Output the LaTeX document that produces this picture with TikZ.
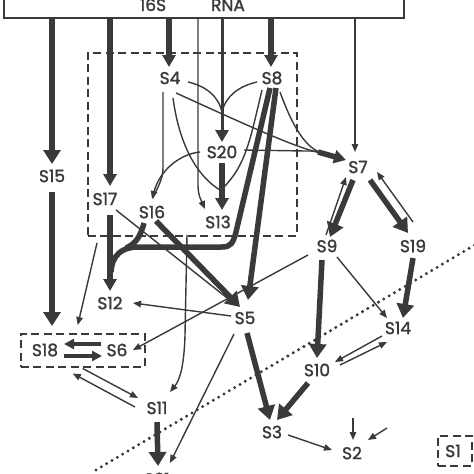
\documentclass[tikz,border=0pt]{standalone}
\usepackage{fontspec}
\setmainfont{Poppins}
\newfontfamily\lblfam{Poppins}[FakeBold=1.6]
\usetikzlibrary{arrows.meta,calc}
\definecolor{ink}{HTML}{3A3A3A}
\newcommand\lblfont{\lblfam\fontsize{17}{19}\selectfont}
\tikzset{
  lab/.style={inner sep=0pt, text=ink, font=\lblfont},
  lnthin/.style={draw=ink, line width=1.4pt},
  lnmed/.style={draw=ink, line width=3pt},
  lnthick/.style={draw=ink, line width=5.5pt},
  ta/.style={-{Triangle[length=8pt,width=6.5pt]}},
  Ta/.style={-{Triangle[length=12pt,width=13pt]}},
  TA/.style={-{Triangle[length=14pt,width=17pt]}},
  Da/.style={-{Triangle[length=10pt,width=10pt]}},
  dbox/.style={draw=ink, line width=1.5pt, dash pattern=on 8pt off 4.5pt, inner sep=0pt},
  dots/.style={draw=ink, line width=3.3pt, line cap=round, dash pattern=on 0pt off 6.2pt},
}
\begin{document}
\begin{tikzpicture}[x=1pt,y=-1pt]
\useasboundingbox[fill=white] (0,0) rectangle (474,474);

% boxes
\node[draw=ink, line width=1.6pt, minimum width=400pt, minimum height=60pt, inner sep=0pt, anchor=south west] (rna) at (3,19) {};
\node[lab, anchor=base] (t16) at (153,11) {16S};
\node[lab, anchor=base] (trna) at (228,11) {RNA};
\node[dbox, minimum width=209pt, minimum height=183pt, anchor=north west] (grp) at (87,52) {};
\node[dbox, minimum width=124pt, minimum height=33pt, anchor=north west] (box18) at (20,333) {};
\node[dbox, minimum width=34pt, minimum height=30pt, anchor=north west] (box1) at (437,435) {};

% labels
\node[lab] (S4) at (170,78) {S4};
\node[lab] (S8) at (272,78) {S8};
\node[lab] (S20) at (222,152) {S20};
\node[lab] (S15) at (52,176) {S15};
\node[lab] (S17) at (105,199) {S17};
\node[lab] (S16) at (152,212) {S16};
\node[lab] (S13) at (218,222) {S13};
\node[lab] (S7) at (358,167) {S7};
\node[lab] (S9) at (327,246) {S9};
\node[lab] (S19) at (413,246) {S19};
\node[lab] (S12) at (110,303) {S12};
\node[lab] (S5) at (245,318) {S5};
\node[lab] (S14) at (398,328) {S14};
\node[lab] (S18) at (45,350) {S18};
\node[lab] (S6) at (117,350) {S6};
\node[lab] (S10) at (317,370) {S10};
\node[lab] (S11) at (157,408) {S11};
\node[lab] (S3) at (272,432) {S3};
\node[lab] (S2) at (352,453) {S2};
\node[lab] (S1) at (453,451) {S1};
\node[lab] (S21) at (157,479) {S21};

\coordinate (f1) at (353,418);
\coordinate (f2) at (387,428);
\coordinate (j7) at (322,153);
\coordinate (j16) at (126,248);

% dotted line
\draw[dots] (96,470) -- (478,243);

% from 16S RNA
\draw[lnthick,TA] (S15 |- rna.south) -- ($(S15)+(0,-12)$);
\draw[lnthick,Ta] (110,19) -- ($(S17)+(5,-13)$);
\draw[lnthick,Ta] (169,19) -- ($(S4)+(-1,-11)$);
\draw[lnthin,ta] (198,19) -- (198,185) .. controls (198,195) and (201,200) .. ($(S13)+(-13,-13)$);
\draw[lnmed,Ta] (222,19) -- ($(S20)+(0,-10)$);
\draw[lnthick,Ta] (271,19) -- ($(S8)+(-1,-11)$);
\draw[lnthin,ta] (355,19) -- ($(S7)+(-3,-15)$);

% S4, S8 -> S20
\draw[lnthin] ($(S4)+(18,4)$) .. controls (205,86) and (218,95) .. (222,112);
\draw[lnthin] ($(S8)+(-15,4)$) .. controls (240,86) and (226,95) .. (222,112);

% S4, S8, S20 -> S7
\draw[lnthin] ($(S4)+(6,15)$) .. controls (240,122) and (300,150) .. (j7);
\draw[lnthin] ($(S8)+(8,14)$) .. controls (292,125) and (305,148) .. (j7);
\draw[lnthin] ($(S20)+(22,-2)$) -- (305,151) .. controls (315,151) .. (j7);
\draw[lnthick,Ta] ($(j7)+(-4,-1)$) -- ($(S7)+(-12,-7)$);

% S4, S20 -> S16
\draw[lnthin] ($(S4)+(-7,14)$) -- (163,168) .. controls (163,180) and (157,188) .. ($(S16)+(1,-14)$);
\draw[lnthin,ta] ($(S20)+(-22,0)$) .. controls (180,154) and (160,170) .. ($(S16)+(0,-13)$);

% S4, S8, S20 -> S13
\draw[lnthin] ($(S4)+(3,20)$) .. controls (180,150) and (200,178) .. (220,190);
\draw[lnthin] ($(S8)+(-10,12)$) .. controls (250,140) and (246,165) .. (223,188);
\draw[lnthick,Ta] ($(S20)+(0,11)$) -- ($(S13)+(4,-12)$);

% S8 thick -> S12 branch and S16 branch
\draw[lnthick] ($(S8)+(-2,10)$) -- (236,232) .. controls (233,244) and (230,247) .. (222,247) -- (138,247) .. controls (122,247) and (112,255) .. (111,272);
\draw[lnthick] ($(S16)+(-8,11)$) .. controls (140,238) and (135,244) .. (j16);
\draw[lnthick,Ta] ($(S17)+(5,16)$) -- ($(S12)+(0,-12)$);

% -> S5
\draw[lnthick,TA] ($(S8)+(4,10)$) -- ($(S5)+(3,-18)$);
\draw[lnthick,TA] ($(S16)+(4,9)$) -- ($(S5)+(-5,-11)$);
\draw[lnthin] ($(S17)+(11,11)$) -- ($(S5)+(-9,-13)$);

% from S5
\draw[lnthin,ta] ($(S5)+(-14,-2)$) -- ($(S12)+(23,0)$);
\draw[lnthin,ta] ($(S5)+(-11,16)$) -- ($(S21)+(13,-16)$);
\draw[lnthick,TA] ($(S5)+(2,15)$) -- ($(S3)+(-2,-12)$);

% group box -> S11 and -> S18 box
\draw[lnthin,ta] (187,235) -- (185,335) .. controls (184,372) and (178,382) .. ($(S11)+(13,-16)$);
\draw[lnthin,ta] (97,243) -- ($(box18.north)+(-5,-8)$);

% S15 -> S18 box
\draw[lnthick,TA] ($(S15)+(0,16)$) -- ($(S15 |- box18.north)+(0,-7)$);

% S18 <-> S6
\draw[draw=ink, line width=4.6pt, Da] ($(S6)+(-16,-6)$) -- ($(S18)+(19,-6)$);
\draw[draw=ink, line width=4.6pt, Da] ($(S18)+(19,6)$) -- ($(S6)+(-15,6)$);

% S9 -> S6
\draw[lnthin,ta] ($(S9)+(-19,9)$) -- ($(S6)+(16,0)$);

% S18 box <-> S11
\draw[lnthin,ta] ($(box18.south)+(0,1)$) -- ($(S11)+(-19,-10)$);
\draw[lnthin,ta] ($(S11)+(-22,-1)$) -- ($(box18.south)+(-10,6)$);

% S11 -> S21
\draw[lnthick,TA] ($(S11)+(0,14)$) -- ($(S21)+(1,-13)$);

% S7 <-> S9, S7 <-> S19
\draw[lnthick,TA] ($(S7)+(-5,13)$) -- ($(S9)+(3,-9)$);
\draw[lnthin,ta] ($(S9)+(-1,-11)$) -- ($(S7)+(-12,10)$);
\draw[lnthick,TA] ($(S7)+(12,13)$) -- ($(S19)+(-5,-13)$);
\draw[lnthin,ta] ($(S19)+(0,-24)$) -- ($(S7)+(19,5)$);

% S19 -> S14, S9 -> S14
\draw[lnthick,TA] ($(S19)+(0,12)$) -- ($(S14)+(5,-10)$);
\draw[lnthin,ta] ($(S9)+(10,11)$) -- ($(S14)+(-11,-10)$);

% S9 -> S10
\draw[lnthick,TA] ($(S9)+(-5,14)$) -- ($(S10)+(0,-12)$);

% S10 <-> S14
\draw[lnthin,ta] ($(S10)+(23,-5)$) -- ($(S14)+(-11,14)$);
\draw[lnthin,ta] ($(S14)+(-16,8)$) -- ($(S10)+(18,-8)$);

% S10 -> S3
\draw[lnthick,TA] ($(S10)+(-9,13)$) -- ($(S3)+(5,-12)$);

% -> S2
\draw[lnthin,ta] ($(S3)+(16,3)$) -- ($(S2)+(-20,-3)$);
\draw[lnthin,ta] (f1) -- ($(S2)+(1,-13)$);
\draw[lnthin,ta] (f2) -- ($(S2)+(16,-13)$);
\end{tikzpicture}
\end{document}
